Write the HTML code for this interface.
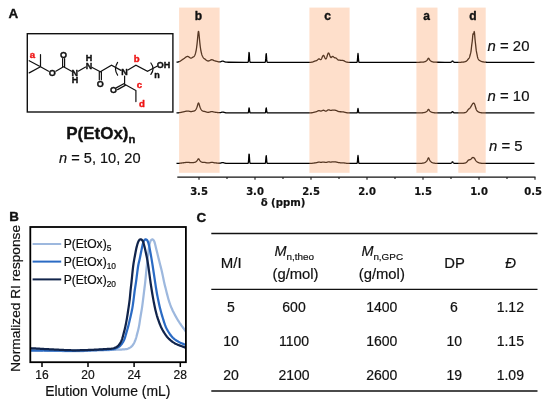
<!DOCTYPE html>
<html lang="en">
<head>
<meta charset="utf-8">
<title>P(EtOx)n characterization</title>
<style>
html,body{margin:0;padding:0;background:#fff;}
body{width:550px;height:406px;overflow:hidden;}
svg{display:block;}
text{font-family:"Liberation Sans",Arial,sans-serif;fill:#111;stroke:#111;stroke-width:0.2px;stroke-linejoin:round;}
.b{font-weight:bold;}
.i{font-style:italic;}
.dj,.dj text{font-family:"DejaVu Sans","Liberation Sans",sans-serif;font-weight:bold;}
.red text{fill:#ee1515;font-weight:bold;stroke:#ee1515;stroke-width:0.4px;}
.atom text{stroke-width:0.4px;}
.b,.b text{stroke-width:0.35px;}
.atom{font-weight:bold;font-size:9px;}
.bond{stroke:#111;stroke-width:1.2;fill:none;stroke-linecap:round;}
.tr{stroke:#000;stroke-width:1.3;fill:none;stroke-linejoin:round;}
</style>
</head>
<body>
<svg width="550" height="406" viewBox="0 0 550 406">
<rect width="550" height="406" fill="#fff"/>

<!-- ===== Panel A ===== -->
<text class="b" x="8.5" y="17.6" font-size="13.4">A</text>

<!-- spectra -->
<g class="tr">
<path d="M176.5 62.18 L177 62.15 L177.5 62.09 L177.75 62.06 L178 62.01 L178.25 61.96 L178.5 61.89 L178.75 61.82 L179 61.73 L179.25 61.62 L179.5 61.51 L179.75 61.38 L180 61.24 L180.25 61.09 L180.5 60.93 L180.75 60.76 L181 60.59 L181.25 60.41 L181.5 60.23 L181.75 60.05 L182 59.88 L182.25 59.7 L182.5 59.53 L182.75 59.36 L183 59.2 L183.25 59.03 L183.5 58.87 L183.75 58.7 L184 58.52 L184.25 58.35 L184.5 58.17 L184.75 57.98 L185 57.79 L185.25 57.6 L185.5 57.4 L185.75 57.22 L186 57.04 L186.25 56.88 L186.5 56.74 L186.75 56.62 L187 56.53 L187.25 56.47 L187.75 56.45 L188 56.5 L188.25 56.59 L188.5 56.7 L188.75 56.85 L189 57.02 L189.25 57.2 L189.5 57.4 L189.75 57.59 L190 57.76 L190.25 57.91 L190.5 58.03 L190.75 58.09 L191 58.11 L191.25 58.07 L191.5 57.98 L191.75 57.85 L192 57.7 L192.25 57.54 L192.5 57.37 L192.75 57.22 L193 57.09 L193.25 56.96 L193.5 56.82 L193.75 56.66 L194 56.45 L194.25 56.18 L194.5 55.81 L194.75 55.35 L195 54.76 L195.25 54.05 L195.5 53.21 L195.75 52.22 L196 51.08 L196.25 49.76 L196.5 48.23 L196.75 46.45 L197 44.4 L197.25 42.03 L197.5 39.38 L197.75 36.58 L198 33.96 L198.25 32.02 L198.5 31.3 L198.75 32.02 L199 33.96 L199.25 36.59 L199.5 39.38 L199.75 42.03 L200 44.4 L200.25 46.46 L200.5 48.24 L200.75 49.77 L201 51.11 L201.25 52.28 L201.5 53.31 L201.75 54.21 L202 55 L202.25 55.69 L202.5 56.28 L202.75 56.79 L203 57.23 L203.25 57.59 L203.5 57.9 L203.75 58.17 L204 58.39 L204.25 58.6 L204.5 58.78 L204.75 58.96 L205 59.14 L205.25 59.33 L205.5 59.52 L205.75 59.72 L206 59.92 L206.25 60.12 L206.5 60.31 L206.75 60.49 L207 60.65 L207.25 60.78 L207.5 60.89 L207.75 60.96 L208 61 L208.5 60.98 L208.75 60.92 L209 60.84 L209.25 60.73 L209.5 60.61 L209.75 60.48 L210 60.35 L210.25 60.21 L210.5 60.08 L210.75 59.97 L211 59.87 L211.25 59.8 L211.5 59.76 L212 59.75 L212.25 59.79 L212.5 59.86 L212.75 59.95 L213 60.05 L213.25 60.17 L213.5 60.29 L213.75 60.42 L214 60.54 L214.25 60.66 L214.5 60.76 L214.75 60.85 L215 60.93 L215.25 61 L215.5 61.07 L215.75 61.12 L216 61.17 L216.25 61.22 L216.5 61.28 L216.75 61.33 L217 61.4 L217.25 61.46 L217.5 61.53 L217.75 61.61 L218 61.68 L218.25 61.75 L218.5 61.81 L218.75 61.86 L219 61.91 L219.5 61.94 L220 61.91 L220.25 61.86 L220.5 61.8 L220.75 61.72 L221 61.62 L221.25 61.52 L221.5 61.41 L221.75 61.32 L222 61.23 L222.25 61.17 L222.5 61.13 L223 61.15 L223.25 61.2 L223.5 61.28 L223.75 61.37 L224 61.48 L224.25 61.6 L224.5 61.71 L224.75 61.81 L225 61.91 L225.25 61.99 L225.5 62.05 L225.75 62.11 L226 62.15 L226.25 62.18 L226.75 62.22 L228.25 62.25 L245 62.28 L247.75 62.28 L248 62.23 L248.25 61.83 L248.5 60.12 L248.75 56.22 L249 52.42 L249.25 52.94 L249.5 57.13 L249.75 60.63 L250 61.98 L250.25 62.25 L250.5 62.28 L265 62.27 L265.25 62.11 L265.5 61.24 L265.75 58.63 L266 54.89 L266.25 53.59 L266.5 56.33 L266.75 59.92 L267 61.74 L267.25 62.22 L267.5 62.28 L311.25 62.24 L311.5 62.22 L311.75 62.18 L312 62.14 L312.25 62.09 L312.5 62.03 L312.75 61.95 L313 61.86 L313.25 61.76 L313.5 61.65 L313.75 61.54 L314 61.42 L314.25 61.31 L314.5 61.2 L314.75 61.1 L315 61.02 L315.25 60.95 L315.5 60.89 L315.75 60.84 L316 60.78 L316.25 60.71 L316.5 60.62 L316.75 60.5 L317 60.33 L317.25 60.13 L317.5 59.9 L317.75 59.65 L318 59.4 L318.25 59.17 L318.5 59 L318.75 58.89 L319 58.86 L319.25 58.91 L319.5 59.03 L319.75 59.19 L320 59.37 L320.25 59.53 L320.5 59.62 L320.75 59.61 L321 59.47 L321.25 59.21 L321.5 58.81 L321.75 58.3 L322 57.72 L322.25 57.11 L322.5 56.52 L322.75 56.02 L323 55.64 L323.25 55.43 L323.5 55.41 L323.75 55.58 L324 55.92 L324.25 56.4 L324.5 56.96 L324.75 57.54 L325 58.09 L325.25 58.54 L325.5 58.85 L325.75 58.97 L326 58.88 L326.25 58.58 L326.5 58.08 L326.75 57.4 L327 56.61 L327.25 55.75 L327.5 54.91 L327.75 54.15 L328 53.54 L328.25 53.15 L328.5 53 L328.75 53.1 L329 53.44 L329.25 53.97 L329.5 54.64 L329.75 55.36 L330 56.06 L330.25 56.66 L330.5 57.13 L330.75 57.42 L331 57.54 L331.25 57.49 L331.5 57.32 L331.75 57.08 L332 56.82 L332.25 56.6 L332.5 56.46 L332.75 56.43 L333 56.5 L333.25 56.66 L333.5 56.88 L333.75 57.12 L334 57.35 L334.25 57.54 L334.5 57.68 L334.75 57.76 L335 57.8 L335.5 57.85 L335.75 57.91 L336 58.02 L336.25 58.18 L336.5 58.39 L336.75 58.64 L337 58.91 L337.25 59.19 L337.5 59.44 L337.75 59.66 L338 59.84 L338.25 59.97 L338.5 60.06 L338.75 60.11 L339 60.14 L339.5 60.18 L340 60.22 L340.25 60.25 L340.5 60.29 L340.75 60.33 L341 60.36 L341.5 60.41 L342.75 60.45 L343 60.48 L343.25 60.53 L343.5 60.6 L343.75 60.69 L344 60.8 L344.25 60.93 L344.5 61.07 L344.75 61.22 L345 61.37 L345.25 61.51 L345.5 61.65 L345.75 61.77 L346 61.88 L346.25 61.98 L346.5 62.05 L346.75 62.12 L347 62.17 L347.25 62.2 L347.75 62.25 L348.5 62.29 L356.75 62.29 L357 62.18 L357.25 61.53 L357.5 59.32 L357.75 55.59 L358 53.5 L358.25 55.59 L358.5 59.32 L358.75 61.53 L359 62.18 L359.25 62.29 L419.5 62.26 L421.25 62.22 L422 62.19 L422.5 62.16 L423 62.11 L423.25 62.08 L423.5 62.04 L423.75 62 L424 61.95 L424.25 61.88 L424.5 61.81 L424.75 61.73 L425 61.64 L425.25 61.54 L425.5 61.42 L425.75 61.29 L426 61.14 L426.25 60.97 L426.5 60.78 L426.75 60.56 L427 60.29 L427.25 59.98 L427.5 59.61 L427.75 59.17 L428 58.72 L428.25 58.35 L428.5 58.2 L428.75 58.35 L429 58.72 L429.25 59.17 L429.5 59.61 L429.75 59.98 L430 60.29 L430.25 60.56 L430.5 60.78 L430.75 60.97 L431 61.14 L431.25 61.29 L431.5 61.42 L431.75 61.54 L432 61.64 L432.25 61.73 L432.5 61.81 L432.75 61.88 L433 61.95 L433.25 62 L433.5 62.04 L433.75 62.08 L434 62.11 L434.5 62.16 L435 62.19 L435.75 62.22 L437.5 62.26 L445 62.29 L450.75 62.25 L451 62.18 L451.25 62.05 L451.5 61.85 L451.75 61.59 L452 61.3 L452.25 61.08 L452.5 60.99 L452.75 61.08 L453 61.3 L453.25 61.59 L453.5 61.85 L453.75 62.05 L454 62.18 L454.25 62.25 L454.5 62.28 L461 62.24 L461.75 62.21 L462.25 62.17 L462.75 62.13 L463 62.1 L463.25 62.07 L463.5 62.03 L463.75 61.99 L464 61.95 L464.25 61.9 L464.5 61.85 L464.75 61.78 L465 61.72 L465.25 61.64 L465.5 61.55 L465.75 61.45 L466 61.33 L466.25 61.19 L466.5 61.02 L466.75 60.81 L467 60.57 L467.25 60.29 L467.5 59.99 L467.75 59.67 L468 59.35 L468.25 59.04 L468.5 58.76 L468.75 58.48 L469 58.19 L469.25 57.8 L469.5 57.24 L469.75 56.44 L470 55.49 L470.25 54.53 L470.5 53.67 L470.75 52.72 L471 51.36 L471.25 49.35 L471.5 47 L471.75 44.89 L472 43.17 L472.25 41.24 L472.5 38.56 L472.75 35.67 L473 33.9 L473.25 33.72 L473.5 34.11 L473.75 33.67 L474 32.3 L474.25 31.5 L474.5 32.8 L474.75 35.9 L475 39.14 L475.25 41.55 L475.5 43.61 L475.75 45.94 L476 48.36 L476.25 50.38 L476.5 51.86 L476.75 53.1 L477 54.37 L477.25 55.69 L477.5 56.9 L477.75 57.86 L478 58.55 L478.25 59.05 L478.5 59.43 L478.75 59.73 L479 59.98 L479.25 60.2 L479.5 60.39 L479.75 60.56 L480 60.71 L480.25 60.85 L480.5 60.99 L480.75 61.11 L481 61.22 L481.25 61.33 L481.5 61.43 L481.75 61.52 L482 61.6 L482.25 61.68 L482.5 61.75 L482.75 61.81 L483 61.87 L483.25 61.92 L483.5 61.97 L483.75 62.01 L484 62.05 L484.25 62.08 L484.75 62.14 L485.25 62.18 L485.75 62.21 L486.5 62.25 L487.75 62.28 L534.5 62.3"/>
<path d="M176.5 112.86 L177.75 112.82 L178.25 112.79 L178.75 112.75 L179 112.72 L179.25 112.69 L179.5 112.65 L179.75 112.61 L180 112.57 L180.25 112.52 L180.5 112.47 L180.75 112.41 L181 112.36 L181.25 112.3 L181.5 112.25 L181.75 112.19 L182 112.14 L182.25 112.08 L182.5 112.03 L182.75 111.97 L183 111.92 L183.25 111.87 L183.5 111.82 L183.75 111.76 L184 111.71 L184.25 111.65 L184.5 111.6 L184.75 111.54 L185 111.48 L185.25 111.42 L185.5 111.36 L185.75 111.3 L186 111.24 L186.25 111.19 L186.5 111.15 L186.75 111.11 L187.25 111.06 L188.25 111.1 L188.5 111.13 L188.75 111.18 L189 111.23 L189.25 111.29 L189.5 111.35 L189.75 111.41 L190 111.47 L190.25 111.51 L190.5 111.55 L191.5 111.53 L191.75 111.49 L192 111.44 L192.25 111.39 L192.5 111.33 L192.75 111.28 L193 111.24 L193.25 111.2 L193.5 111.15 L193.75 111.1 L194 111.03 L194.25 110.93 L194.5 110.82 L194.75 110.66 L195 110.47 L195.25 110.24 L195.5 109.97 L195.75 109.65 L196 109.28 L196.25 108.85 L196.5 108.36 L196.75 107.79 L197 107.12 L197.25 106.36 L197.5 105.51 L197.75 104.6 L198 103.76 L198.25 103.13 L198.5 102.9 L198.75 103.13 L199 103.76 L199.25 104.6 L199.5 105.51 L199.75 106.36 L200 107.12 L200.25 107.78 L200.5 108.35 L200.75 108.85 L201 109.27 L201.25 109.64 L201.5 109.96 L201.75 110.24 L202 110.48 L202.25 110.68 L202.5 110.85 L202.75 110.99 L203 111.1 L203.25 111.19 L203.5 111.26 L203.75 111.32 L204 111.37 L204.25 111.41 L204.5 111.46 L204.75 111.5 L205 111.56 L205.25 111.62 L205.5 111.69 L205.75 111.77 L206 111.85 L206.25 111.94 L206.5 112.02 L206.75 112.1 L207 112.17 L207.25 112.23 L207.5 112.28 L207.75 112.31 L208.5 112.3 L208.75 112.26 L209 112.22 L209.25 112.16 L209.5 112.09 L209.75 112.02 L210 111.95 L210.25 111.87 L210.5 111.8 L210.75 111.74 L211 111.69 L211.25 111.65 L211.75 111.61 L212.25 111.64 L212.5 111.67 L212.75 111.71 L213 111.77 L213.25 111.83 L213.5 111.89 L213.75 111.96 L214 112.02 L214.25 112.08 L214.5 112.13 L214.75 112.18 L215 112.22 L215.25 112.25 L215.5 112.29 L216 112.34 L216.5 112.39 L216.75 112.42 L217 112.45 L217.25 112.49 L217.5 112.52 L217.75 112.56 L218 112.6 L218.25 112.63 L218.5 112.66 L219 112.7 L220 112.67 L220.25 112.63 L220.5 112.58 L220.75 112.52 L221 112.45 L221.25 112.37 L221.5 112.29 L221.75 112.22 L222 112.16 L222.25 112.11 L222.75 112.08 L223 112.09 L223.25 112.13 L223.5 112.19 L223.75 112.25 L224 112.33 L224.25 112.41 L224.5 112.49 L224.75 112.57 L225 112.64 L225.25 112.7 L225.5 112.74 L225.75 112.78 L226.25 112.84 L227 112.87 L248 112.87 L248.25 112.67 L248.5 111.82 L248.75 109.89 L249 108.01 L249.25 108.27 L249.5 110.34 L249.75 112.08 L250 112.74 L250.25 112.88 L265 112.89 L265.25 112.79 L265.5 112.29 L265.75 110.78 L266 108.61 L266.25 107.85 L266.5 109.44 L266.75 111.52 L267 112.58 L267.25 112.85 L267.5 112.89 L310.75 112.86 L311.25 112.82 L311.75 112.77 L312 112.74 L312.25 112.7 L312.5 112.66 L312.75 112.61 L313 112.55 L313.25 112.49 L313.5 112.43 L313.75 112.36 L314 112.3 L314.25 112.23 L314.5 112.17 L314.75 112.11 L315 112.05 L315.25 111.99 L315.5 111.92 L315.75 111.86 L316 111.79 L316.25 111.71 L316.5 111.61 L316.75 111.51 L317 111.4 L317.25 111.28 L317.5 111.15 L317.75 111.03 L318 110.91 L318.25 110.81 L318.5 110.74 L318.75 110.7 L319.25 110.7 L319.5 110.74 L319.75 110.8 L320 110.87 L320.25 110.94 L320.5 110.99 L320.75 111.03 L321 111.03 L321.25 110.99 L321.5 110.93 L321.75 110.83 L322 110.72 L322.25 110.6 L322.5 110.48 L322.75 110.37 L323 110.3 L323.25 110.26 L323.5 110.26 L323.75 110.3 L324 110.39 L324.25 110.5 L324.5 110.63 L324.75 110.77 L325 110.9 L325.25 111.01 L325.5 111.09 L325.75 111.12 L326 111.11 L326.25 111.04 L326.5 110.94 L326.75 110.8 L327 110.63 L327.25 110.44 L327.5 110.27 L327.75 110.1 L328 109.97 L328.25 109.88 L328.5 109.83 L328.75 109.83 L329 109.87 L329.25 109.95 L329.5 110.05 L329.75 110.16 L330 110.26 L330.25 110.35 L330.5 110.41 L330.75 110.45 L331 110.44 L331.25 110.41 L331.5 110.36 L331.75 110.29 L332 110.21 L332.25 110.14 L332.5 110.09 L332.75 110.05 L334 110.09 L334.25 110.12 L334.5 110.15 L335 110.21 L335.25 110.25 L335.5 110.29 L335.75 110.34 L336 110.41 L336.25 110.5 L336.5 110.6 L336.75 110.71 L337 110.84 L337.25 110.96 L337.5 111.09 L337.75 111.21 L338 111.32 L338.25 111.41 L338.5 111.5 L338.75 111.56 L339 111.62 L339.25 111.66 L339.5 111.69 L340 111.74 L340.75 111.77 L341.75 111.81 L342.5 111.84 L343 111.89 L343.25 111.92 L343.5 111.96 L343.75 112.01 L344 112.07 L344.25 112.13 L344.5 112.19 L344.75 112.26 L345 112.33 L345.25 112.4 L345.5 112.47 L345.75 112.54 L346 112.59 L346.25 112.65 L346.5 112.7 L346.75 112.74 L347 112.77 L347.5 112.82 L348 112.86 L349 112.89 L356.75 112.89 L357 112.84 L357.25 112.51 L357.5 111.41 L357.75 109.54 L358 108.5 L358.25 109.54 L358.5 111.41 L358.75 112.51 L359 112.84 L359.25 112.89 L419.5 112.86 L421.5 112.83 L422.25 112.8 L422.75 112.76 L423.25 112.71 L423.5 112.68 L423.75 112.64 L424 112.6 L424.25 112.55 L424.5 112.49 L424.75 112.42 L425 112.34 L425.25 112.25 L425.5 112.15 L425.75 112.04 L426 111.91 L426.25 111.77 L426.5 111.6 L426.75 111.41 L427 111.19 L427.25 110.92 L427.5 110.6 L427.75 110.23 L428 109.84 L428.25 109.53 L428.5 109.4 L428.75 109.53 L429 109.84 L429.25 110.23 L429.5 110.6 L429.75 110.92 L430 111.19 L430.25 111.41 L430.5 111.6 L430.75 111.77 L431 111.91 L431.25 112.04 L431.5 112.15 L431.75 112.25 L432 112.34 L432.25 112.42 L432.5 112.49 L432.75 112.55 L433 112.6 L433.25 112.64 L433.5 112.68 L433.75 112.71 L434.25 112.76 L434.75 112.8 L435.5 112.83 L437.25 112.86 L446.75 112.89 L450.75 112.85 L451 112.79 L451.25 112.67 L451.5 112.49 L451.75 112.24 L452 111.98 L452.25 111.77 L452.5 111.69 L452.75 111.77 L453 111.98 L453.25 112.24 L453.5 112.49 L453.75 112.67 L454 112.79 L454.25 112.85 L454.75 112.89 L463 112.86 L463.75 112.81 L464.25 112.76 L464.5 112.73 L464.75 112.69 L465 112.63 L465.25 112.56 L465.5 112.47 L465.75 112.35 L466 112.21 L466.25 112.02 L466.5 111.8 L466.75 111.54 L467 111.24 L467.25 110.91 L467.5 110.56 L467.75 110.21 L468 109.88 L468.25 109.58 L468.5 109.31 L468.75 109.08 L469 108.89 L469.25 108.71 L469.5 108.53 L469.75 108.31 L470 108.04 L470.25 107.72 L470.5 107.34 L470.75 106.93 L471 106.51 L471.25 106.08 L471.5 105.65 L471.75 105.22 L472 104.79 L472.25 104.37 L472.5 103.97 L472.75 103.62 L473 103.35 L473.25 103.18 L473.5 103.1 L473.75 103.12 L474 103.26 L474.25 103.55 L474.5 103.99 L474.75 104.61 L475 105.39 L475.25 106.27 L475.5 107.18 L475.75 108.06 L476 108.85 L476.25 109.51 L476.5 110.04 L476.75 110.46 L477 110.79 L477.25 111.06 L477.5 111.28 L477.75 111.48 L478 111.65 L478.25 111.81 L478.5 111.95 L478.75 112.08 L479 112.19 L479.25 112.29 L479.5 112.38 L479.75 112.46 L480 112.53 L480.25 112.59 L480.5 112.65 L480.75 112.69 L481 112.73 L481.25 112.76 L481.75 112.81 L482.25 112.84 L483.25 112.88 L534.5 112.9"/>
<path d="M176.5 163.38 L178 163.35 L178.75 163.31 L179.25 163.28 L179.75 163.23 L180.25 163.18 L180.5 163.15 L180.75 163.12 L181 163.09 L181.25 163.06 L181.5 163.02 L181.75 162.99 L182 162.96 L182.25 162.92 L182.5 162.89 L182.75 162.86 L183 162.83 L183.25 162.8 L183.5 162.77 L183.75 162.74 L184 162.71 L184.25 162.68 L184.5 162.64 L184.75 162.61 L185 162.57 L185.25 162.54 L185.5 162.5 L185.75 162.47 L186 162.44 L186.5 162.38 L187 162.34 L188.5 162.38 L188.75 162.41 L189 162.44 L189.25 162.48 L189.5 162.51 L189.75 162.55 L190 162.58 L190.5 162.64 L192 162.6 L192.5 162.56 L193 162.53 L193.75 162.49 L194 162.47 L194.25 162.44 L194.5 162.4 L194.75 162.34 L195 162.26 L195.25 162.16 L195.5 162.04 L195.75 161.9 L196 161.73 L196.25 161.54 L196.5 161.31 L196.75 161.05 L197 160.74 L197.25 160.39 L197.5 160 L197.75 159.58 L198 159.19 L198.25 158.91 L198.5 158.8 L198.75 158.91 L199 159.19 L199.25 159.58 L199.5 160 L199.75 160.39 L200 160.74 L200.25 161.04 L200.5 161.3 L200.75 161.52 L201 161.71 L201.25 161.87 L201.5 162.01 L201.75 162.13 L202 162.22 L202.25 162.29 L202.5 162.35 L202.75 162.39 L203.25 162.43 L205 162.47 L205.25 162.5 L205.5 162.54 L205.75 162.59 L206 162.64 L206.25 162.7 L206.5 162.76 L206.75 162.82 L207 162.87 L207.25 162.92 L207.5 162.95 L208.5 162.95 L208.75 162.92 L209 162.88 L209.25 162.83 L209.5 162.77 L209.75 162.71 L210 162.64 L210.25 162.58 L210.5 162.52 L210.75 162.47 L211 162.42 L211.25 162.39 L211.75 162.36 L212.5 162.4 L212.75 162.44 L213 162.48 L213.25 162.53 L213.5 162.58 L213.75 162.64 L214 162.69 L214.25 162.74 L214.5 162.78 L214.75 162.82 L215 162.85 L215.5 162.91 L216 162.95 L216.5 162.99 L217 163.04 L217.5 163.1 L217.75 163.13 L218.25 163.19 L218.75 163.23 L220 163.2 L220.25 163.15 L220.5 163.1 L220.75 163.04 L221 162.96 L221.25 162.88 L221.5 162.81 L221.75 162.73 L222 162.67 L222.25 162.62 L222.75 162.59 L223 162.61 L223.25 162.64 L223.5 162.7 L223.75 162.77 L224 162.84 L224.25 162.93 L224.5 163.01 L224.75 163.08 L225 163.15 L225.25 163.21 L225.5 163.26 L225.75 163.29 L226.25 163.35 L227 163.38 L247.75 163.39 L248 163.35 L248.25 162.97 L248.5 161.36 L248.75 157.69 L249 154.11 L249.25 154.6 L249.5 158.55 L249.75 161.84 L250 163.11 L250.25 163.37 L250.75 163.4 L265 163.38 L265.25 163.24 L265.5 162.45 L265.75 160.11 L266 156.76 L266.25 155.58 L266.5 158.05 L266.75 161.27 L267 162.9 L267.25 163.33 L267.5 163.39 L311 163.36 L311.75 163.32 L312.25 163.28 L312.75 163.22 L313 163.19 L313.25 163.16 L313.5 163.12 L313.75 163.09 L314 163.05 L314.25 163.01 L314.5 162.98 L314.75 162.94 L315 162.9 L315.25 162.87 L315.5 162.83 L315.75 162.79 L316 162.74 L316.25 162.69 L316.5 162.64 L316.75 162.58 L317 162.51 L317.25 162.45 L317.5 162.38 L317.75 162.31 L318 162.25 L318.25 162.2 L318.5 162.16 L319 162.13 L319.5 162.16 L319.75 162.19 L320 162.23 L320.25 162.27 L320.5 162.3 L321.5 162.3 L321.75 162.26 L322 162.22 L322.25 162.17 L322.5 162.12 L322.75 162.08 L323.25 162.04 L323.75 162.06 L324 162.1 L324.25 162.15 L324.5 162.21 L324.75 162.27 L325 162.33 L325.25 162.38 L325.5 162.42 L326.25 162.41 L326.5 162.37 L326.75 162.31 L327 162.24 L327.25 162.16 L327.5 162.08 L327.75 162.01 L328 161.95 L328.25 161.91 L329.25 161.92 L329.5 161.95 L329.75 161.99 L330 162.03 L330.5 162.08 L331.25 162.05 L331.5 162.02 L331.75 161.98 L332 161.94 L332.25 161.9 L332.5 161.87 L333 161.83 L334.75 161.87 L335.25 161.9 L335.5 161.93 L335.75 161.96 L336 162 L336.25 162.05 L336.5 162.1 L336.75 162.16 L337 162.23 L337.25 162.3 L337.5 162.36 L337.75 162.43 L338 162.49 L338.25 162.55 L338.5 162.59 L338.75 162.63 L339 162.67 L339.5 162.71 L340.25 162.75 L341.75 162.78 L342.75 162.82 L343.25 162.85 L343.75 162.9 L344 162.93 L344.25 162.97 L344.5 163 L344.75 163.04 L345 163.08 L345.25 163.12 L345.5 163.15 L345.75 163.19 L346 163.22 L346.5 163.28 L347 163.32 L347.5 163.35 L348.5 163.38 L356.75 163.39 L357 163.3 L357.25 162.71 L357.5 160.72 L357.75 157.37 L358 155.5 L358.25 157.37 L358.5 160.72 L358.75 162.71 L359 163.3 L359.25 163.39 L417.75 163.36 L420.25 163.33 L421.25 163.3 L422 163.26 L422.5 163.21 L422.75 163.18 L423 163.14 L423.25 163.1 L423.5 163.05 L423.75 162.99 L424 162.92 L424.25 162.83 L424.5 162.74 L424.75 162.63 L425 162.5 L425.25 162.36 L425.5 162.2 L425.75 162.02 L426 161.82 L426.25 161.59 L426.5 161.33 L426.75 161.02 L427 160.66 L427.25 160.23 L427.5 159.72 L427.75 159.13 L428 158.51 L428.25 158 L428.5 157.8 L428.75 158 L429 158.51 L429.25 159.13 L429.5 159.72 L429.75 160.23 L430 160.66 L430.25 161.02 L430.5 161.33 L430.75 161.59 L431 161.82 L431.25 162.02 L431.5 162.2 L431.75 162.36 L432 162.5 L432.25 162.63 L432.5 162.74 L432.75 162.83 L433 162.92 L433.25 162.99 L433.5 163.05 L433.75 163.1 L434 163.14 L434.25 163.18 L434.5 163.21 L435 163.26 L435.5 163.29 L436.5 163.32 L438.5 163.35 L445.25 163.38 L450.5 163.37 L450.75 163.33 L451 163.25 L451.25 163.1 L451.5 162.85 L451.75 162.52 L452 162.17 L452.25 161.9 L452.5 161.79 L452.75 161.9 L453 162.17 L453.25 162.52 L453.5 162.85 L453.75 163.1 L454 163.25 L454.25 163.33 L454.5 163.37 L463 163.33 L463.5 163.3 L464 163.25 L464.25 163.22 L464.5 163.18 L464.75 163.13 L465 163.08 L465.25 163 L465.5 162.92 L465.75 162.8 L466 162.66 L466.25 162.49 L466.5 162.28 L466.75 162.04 L467 161.77 L467.25 161.47 L467.5 161.16 L467.75 160.86 L468 160.57 L468.25 160.32 L468.5 160.11 L468.75 159.96 L469 159.86 L469.25 159.8 L469.5 159.77 L469.75 159.75 L470 159.71 L470.25 159.64 L470.5 159.51 L470.75 159.33 L471 159.1 L471.25 158.82 L471.5 158.52 L471.75 158.22 L472 157.96 L472.25 157.75 L472.5 157.6 L472.75 157.52 L473.25 157.52 L473.5 157.59 L473.75 157.7 L474 157.87 L474.25 158.1 L474.5 158.41 L474.75 158.77 L475 159.19 L475.25 159.62 L475.5 160.06 L475.75 160.46 L476 160.82 L476.25 161.13 L476.5 161.39 L476.75 161.62 L477 161.81 L477.25 161.98 L477.5 162.13 L477.75 162.27 L478 162.39 L478.25 162.51 L478.5 162.61 L478.75 162.71 L479 162.8 L479.25 162.87 L479.5 162.95 L479.75 163.01 L480 163.07 L480.25 163.12 L480.5 163.16 L480.75 163.2 L481 163.23 L481.5 163.28 L482 163.32 L482.75 163.36 L484.25 163.39 L534.5 163.4"/>
</g>
<!-- shaded bands (translucent, over the traces) -->
<g fill="#fca066" fill-opacity="0.34">
<rect x="179.1" y="7.6" width="40.5" height="165.2"/>
<rect x="309.4" y="7.6" width="40.2" height="165.2"/>
<rect x="416.4" y="7.6" width="21.1" height="165.2"/>
<rect x="458.3" y="7.6" width="27.4" height="165.2"/>
</g>
<g class="b" font-size="12" text-anchor="middle">
<text x="198.3" y="19.6">b</text>
<text x="327.5" y="19.6">c</text>
<text x="426.5" y="19.6">a</text>
<text x="472.8" y="19.6">d</text>
</g>


<g font-size="14.9">
<text x="487.6" y="50.9"><tspan class="i">n</tspan> = 20</text>
<text x="487.6" y="101.3"><tspan class="i">n</tspan> = 10</text>
<text x="489" y="151.3"><tspan class="i">n</tspan> = 5</text>
</g>

<!-- ppm axis -->
<path d="M177.3 177.2H535.5" stroke="#111" stroke-width="1.3" fill="none"/>
<path d="M199 177.2V179.8M227 177.2V179.0M255 177.2V179.8M283 177.2V179.0M311 177.2V179.8M339 177.2V179.0M367 177.2V179.8M395 177.2V179.0M423 177.2V179.8M451 177.2V179.0M479 177.2V179.8M507 177.2V179.0M535 177.2V179.8" stroke="#111" stroke-width="1.1" fill="none"/>
<g class="dj" font-size="10"><text x="199" y="194.8" text-anchor="middle">3.5</text><text x="255" y="194.8" text-anchor="middle">3.0</text><text x="311" y="194.8" text-anchor="middle">2.5</text><text x="367" y="194.8" text-anchor="middle">2.0</text><text x="423" y="194.8" text-anchor="middle">1.5</text><text x="479" y="194.8" text-anchor="middle">1.0</text><text x="542" y="194.8" text-anchor="end">0.5</text></g>
<text class="dj" x="283" y="205.8" font-size="10.1" text-anchor="middle">δ (ppm)</text>

<!-- structure box -->
<rect x="27.3" y="33.7" width="145.6" height="78.3" fill="none" stroke="#111" stroke-width="1.4"/>
<g class="bond">
<path d="M40.5 66.8V54.5M40.5 66.8L29.2 60.7M40.5 66.8L29.2 72.9M40.5 66.8L48.6 71.2"/>
<path d="M55.8 71.2L63.5 66.8M62.6 66.8V58.6M64.6 66.8V58.6M63.5 66.8L71.6 71.2"/>
<path d="M78.2 71.2L85.6 67.1M92.2 67.5L100.3 71.7M99.3 71.7V79.8M101.4 71.7V79.8"/>
<path d="M100.3 71.7L111.5 65.2L121 70.4M127.9 70L135.9 65.2L147.5 71.4L157 66.2"/>
<path d="M124.6 76V84.3M124.6 84.3L135.9 90.6V101.6M124.2 83.5L116.6 87.6M125.2 85.4L117.6 89.6"/>
<path d="M117.6 62.4Q113.4 68.8 117.6 75.2M150.9 63Q155.1 68.7 150.9 74.4"/>
</g>
<g class="atom" text-anchor="middle">
<text x="52.2" y="76.1">O</text>
<text x="63.5" y="57.8">O</text>
<text x="74.8" y="75.7">N</text>
<text x="75.1" y="83">H</text>
<text x="88.9" y="68.8">N</text>
<text x="88.9" y="61.2">H</text>
<text x="100.3" y="86.7">O</text>
<text x="124.5" y="75.3">N</text>
<text x="113.4" y="93">O</text>
<text x="163.6" y="68.1">OH</text>
<text x="157.1" y="78.2">n</text>
</g>
<g class="red" font-size="9.6" text-anchor="middle">
<text x="32.5" y="57.5">a</text>
<text x="136.8" y="61.8">b</text>
<text x="139.3" y="87.8">c</text>
<text x="141.9" y="106.9">d</text>
</g>

<text class="b" x="66.2" y="139.3" font-size="17">P(EtOx)<tspan font-size="11.3" dy="3.8">n</tspan></text>
<text x="99.8" y="162.8" font-size="14.6" text-anchor="middle"><tspan class="i">n</tspan> = 5, 10, 20</text>

<!-- ===== Panel B ===== -->
<text class="b" x="9.2" y="221.4" font-size="13.4">B</text>
<text transform="translate(19.8 298.4) rotate(-90)" font-size="13.7" text-anchor="middle">Normalized RI response</text>
<clipPath id="cp"><rect x="30.3" y="227" width="155.7" height="135.2"/></clipPath>
<g clip-path="url(#cp)" fill="none" stroke-width="2.25" stroke-linecap="round" stroke-linejoin="round">
<path d="M30.5 349.8 L31.5 349.84 L32.5 349.89 L33.5 349.93 L34.5 349.98 L35.5 350.02 L36.49 350.06 L37.49 350.11 L38.49 350.15 L39.49 350.19 L40.49 350.24 L41.49 350.28 L42.49 350.32 L43.49 350.36 L44.49 350.4 L45.49 350.44 L46.49 350.47 L47.49 350.51 L48.48 350.55 L49.48 350.58 L50.48 350.62 L51.48 350.65 L52.48 350.69 L53.48 350.72 L54.48 350.76 L55.48 350.79 L56.48 350.83 L57.48 350.86 L58.48 350.9 L59.48 350.93 L60.48 350.96 L61.48 350.99 L62.48 351.02 L63.48 351.05 L64.48 351.08 L65.48 351.1 L66.47 351.12 L67.47 351.14 L68.47 351.16 L69.47 351.17 L70.47 351.18 L71.47 351.19 L72.47 351.19 L73.47 351.19 L74.47 351.19 L75.47 351.18 L76.47 351.17 L77.47 351.15 L78.47 351.14 L79.47 351.12 L80.47 351.09 L81.47 351.07 L82.47 351.04 L83.47 351.01 L84.47 350.98 L85.47 350.95 L86.47 350.91 L87.47 350.88 L88.47 350.84 L89.47 350.8 L90.47 350.76 L91.47 350.73 L92.47 350.69 L93.47 350.65 L94.46 350.61 L95.46 350.57 L96.46 350.53 L97.46 350.49 L98.46 350.46 L99.46 350.42 L100.46 350.38 L101.46 350.35 L102.46 350.31 L103.46 350.27 L104.46 350.24 L105.46 350.2 L106.46 350.16 L107.46 350.12 L108.45 350.08 L109.45 350.04 L110.45 349.99 L111.45 349.95 L112.45 349.91 L113.45 349.87 L114.45 349.83 L115.45 349.78 L116.45 349.74 L117.45 349.7 L118.45 349.66 L119.44 349.62 L120.44 349.57 L121.44 349.51 L122.44 349.46 L123.44 349.39 L124.43 349.31 L125.42 349.21 L126.4 349.05 L127.36 348.82 L128.29 348.52 L129.19 348.12 L130.05 347.64 L130.85 347.08 L131.59 346.44 L132.26 345.73 L132.88 344.96 L133.42 344.14 L133.92 343.28 L134.36 342.39 L134.77 341.48 L135.16 340.56 L135.51 339.63 L135.84 338.68 L136.14 337.73 L136.42 336.77 L136.67 335.81 L136.92 334.84 L137.16 333.87 L137.42 332.9 L137.67 331.93 L137.93 330.97 L138.18 330 L138.42 329.03 L138.64 328.06 L138.85 327.08 L139.04 326.1 L139.21 325.11 L139.38 324.13 L139.53 323.14 L139.69 322.15 L139.83 321.16 L139.98 320.17 L140.13 319.18 L140.28 318.2 L140.43 317.21 L140.59 316.22 L140.75 315.23 L140.92 314.25 L141.09 313.26 L141.26 312.28 L141.43 311.29 L141.6 310.31 L141.76 309.32 L141.91 308.33 L142.06 307.34 L142.2 306.35 L142.34 305.36 L142.47 304.37 L142.6 303.38 L142.73 302.39 L142.86 301.39 L142.98 300.4 L143.11 299.41 L143.23 298.42 L143.36 297.43 L143.48 296.43 L143.6 295.44 L143.72 294.45 L143.84 293.46 L143.96 292.46 L144.08 291.47 L144.2 290.48 L144.33 289.49 L144.45 288.49 L144.57 287.5 L144.69 286.51 L144.81 285.51 L144.93 284.52 L145.04 283.53 L145.16 282.53 L145.26 281.54 L145.37 280.55 L145.47 279.55 L145.57 278.56 L145.66 277.56 L145.76 276.57 L145.86 275.57 L145.95 274.57 L146.05 273.58 L146.14 272.58 L146.24 271.59 L146.34 270.59 L146.44 269.6 L146.53 268.6 L146.63 267.61 L146.74 266.61 L146.84 265.62 L146.95 264.62 L147.06 263.63 L147.17 262.64 L147.29 261.64 L147.4 260.65 L147.52 259.66 L147.64 258.66 L147.75 257.67 L147.87 256.68 L147.98 255.68 L148.09 254.69 L148.21 253.7 L148.33 252.7 L148.44 251.71 L148.57 250.72 L148.69 249.73 L148.82 248.74 L148.97 247.75 L149.12 246.76 L149.28 245.77 L149.47 244.79 L149.67 243.81 L149.9 242.85 L150.18 241.91 L150.53 241.03 L150.96 240.26 L151.48 239.7 L152.07 239.41 L152.69 239.46 L153.27 239.83 L153.77 240.46 L154.18 241.27 L154.52 242.16 L154.8 243.11 L155.06 244.07 L155.3 245.04 L155.54 246.01 L155.77 246.98 L156.01 247.95 L156.25 248.93 L156.49 249.9 L156.73 250.87 L156.97 251.84 L157.21 252.81 L157.45 253.78 L157.68 254.75 L157.92 255.72 L158.16 256.69 L158.4 257.67 L158.64 258.64 L158.88 259.61 L159.12 260.58 L159.37 261.55 L159.61 262.52 L159.86 263.48 L160.11 264.45 L160.36 265.42 L160.61 266.39 L160.85 267.36 L161.1 268.33 L161.34 269.3 L161.58 270.27 L161.81 271.24 L162.03 272.22 L162.25 273.19 L162.46 274.17 L162.66 275.15 L162.86 276.13 L163.06 277.11 L163.26 278.09 L163.45 279.07 L163.65 280.05 L163.86 281.03 L164.07 282.01 L164.3 282.98 L164.52 283.96 L164.76 284.93 L165 285.9 L165.24 286.87 L165.49 287.84 L165.73 288.81 L165.98 289.77 L166.23 290.74 L166.47 291.71 L166.71 292.68 L166.96 293.65 L167.2 294.62 L167.44 295.59 L167.7 296.56 L167.96 297.53 L168.23 298.49 L168.51 299.45 L168.8 300.41 L169.1 301.36 L169.41 302.31 L169.73 303.26 L170.06 304.2 L170.4 305.14 L170.76 306.07 L171.12 307 L171.51 307.93 L171.9 308.84 L172.32 309.75 L172.74 310.66 L173.18 311.56 L173.63 312.45 L174.09 313.34 L174.55 314.22 L175.03 315.1 L175.5 315.98 L175.99 316.86 L176.48 317.73 L176.98 318.59 L177.49 319.45 L178.01 320.31 L178.54 321.16 L179.08 322 L179.62 322.84 L180.18 323.67 L180.75 324.49 L181.32 325.31 L181.9 326.12 L182.49 326.93 L183.08 327.74 L183.68 328.54 L184.27 329.34 L184.87 330.15 L185.47 330.95" stroke="#9db8de"/>
<path d="M30.5 350.6 L31.5 350.59 L32.5 350.58 L33.5 350.58 L34.5 350.57 L35.5 350.56 L36.5 350.55 L37.5 350.54 L38.5 350.53 L39.5 350.53 L40.5 350.52 L41.5 350.51 L42.5 350.51 L43.5 350.5 L44.5 350.5 L45.5 350.5 L46.5 350.5 L47.5 350.5 L48.5 350.5 L49.5 350.5 L50.5 350.51 L51.5 350.52 L52.5 350.53 L53.5 350.54 L54.5 350.56 L55.5 350.58 L56.5 350.59 L57.5 350.61 L58.5 350.63 L59.5 350.66 L60.5 350.68 L61.5 350.7 L62.5 350.72 L63.5 350.73 L64.5 350.75 L65.5 350.77 L66.5 350.78 L67.5 350.79 L68.5 350.8 L69.5 350.81 L70.5 350.81 L71.5 350.81 L72.5 350.8 L73.5 350.8 L74.5 350.79 L75.5 350.77 L76.5 350.75 L77.5 350.73 L78.5 350.71 L79.5 350.68 L80.49 350.65 L81.49 350.62 L82.49 350.59 L83.49 350.56 L84.49 350.52 L85.49 350.48 L86.49 350.45 L87.49 350.41 L88.49 350.37 L89.49 350.33 L90.49 350.29 L91.49 350.25 L92.49 350.21 L93.49 350.17 L94.48 350.12 L95.48 350.08 L96.48 350.04 L97.48 350 L98.48 349.96 L99.48 349.92 L100.48 349.88 L101.48 349.84 L102.48 349.81 L103.48 349.77 L104.48 349.73 L105.48 349.68 L106.47 349.63 L107.47 349.59 L108.47 349.53 L109.47 349.48 L110.47 349.42 L111.46 349.33 L112.45 349.21 L113.43 349.05 L114.4 348.83 L115.35 348.56 L116.29 348.23 L117.2 347.84 L118.07 347.38 L118.89 346.85 L119.67 346.25 L120.39 345.57 L121.05 344.84 L121.67 344.07 L122.24 343.25 L122.78 342.42 L123.29 341.56 L123.76 340.68 L124.18 339.78 L124.56 338.86 L124.9 337.92 L125.2 336.97 L125.48 336.02 L125.74 335.05 L126.01 334.09 L126.28 333.13 L126.56 332.17 L126.85 331.21 L127.13 330.25 L127.41 329.29 L127.68 328.33 L127.95 327.36 L128.21 326.4 L128.46 325.43 L128.7 324.46 L128.93 323.49 L129.17 322.52 L129.39 321.54 L129.62 320.57 L129.84 319.59 L130.06 318.62 L130.29 317.64 L130.51 316.67 L130.73 315.69 L130.96 314.72 L131.18 313.74 L131.4 312.77 L131.62 311.79 L131.82 310.81 L132.02 309.83 L132.21 308.85 L132.39 307.87 L132.55 306.88 L132.71 305.9 L132.86 304.91 L133 303.92 L133.14 302.93 L133.27 301.94 L133.41 300.94 L133.54 299.95 L133.66 298.96 L133.79 297.97 L133.91 296.98 L134.03 295.98 L134.15 294.99 L134.27 294 L134.39 293 L134.51 292.01 L134.64 291.02 L134.78 290.03 L134.93 289.04 L135.08 288.05 L135.23 287.07 L135.39 286.08 L135.55 285.09 L135.7 284.1 L135.85 283.11 L136 282.12 L136.14 281.13 L136.27 280.14 L136.41 279.15 L136.54 278.16 L136.66 277.17 L136.79 276.18 L136.92 275.19 L137.05 274.19 L137.17 273.2 L137.3 272.21 L137.43 271.22 L137.56 270.23 L137.69 269.24 L137.82 268.24 L137.97 267.26 L138.12 266.27 L138.29 265.28 L138.48 264.3 L138.69 263.32 L138.91 262.35 L139.14 261.38 L139.36 260.4 L139.58 259.43 L139.8 258.45 L140.01 257.47 L140.21 256.49 L140.41 255.51 L140.6 254.53 L140.8 253.55 L140.99 252.57 L141.19 251.59 L141.39 250.61 L141.59 249.63 L141.79 248.65 L142 247.67 L142.21 246.7 L142.43 245.72 L142.65 244.75 L142.89 243.78 L143.15 242.82 L143.46 241.89 L143.82 241.01 L144.27 240.25 L144.81 239.68 L145.43 239.38 L146.08 239.41 L146.69 239.75 L147.23 240.36 L147.68 241.14 L148.05 242.03 L148.36 242.96 L148.63 243.92 L148.87 244.89 L149.1 245.86 L149.31 246.84 L149.52 247.81 L149.72 248.79 L149.91 249.78 L150.1 250.76 L150.28 251.74 L150.46 252.72 L150.64 253.71 L150.82 254.69 L150.99 255.68 L151.16 256.66 L151.33 257.65 L151.5 258.63 L151.67 259.62 L151.83 260.61 L151.99 261.59 L152.15 262.58 L152.31 263.57 L152.47 264.56 L152.62 265.54 L152.77 266.53 L152.92 267.52 L153.07 268.51 L153.22 269.5 L153.37 270.49 L153.52 271.48 L153.67 272.46 L153.82 273.45 L153.96 274.44 L154.11 275.43 L154.26 276.42 L154.41 277.41 L154.56 278.4 L154.71 279.39 L154.86 280.38 L155.01 281.36 L155.16 282.35 L155.31 283.34 L155.46 284.33 L155.61 285.32 L155.76 286.31 L155.91 287.3 L156.07 288.28 L156.22 289.27 L156.38 290.26 L156.55 291.24 L156.72 292.23 L156.89 293.21 L157.07 294.2 L157.25 295.18 L157.44 296.16 L157.63 297.15 L157.83 298.13 L158.03 299.11 L158.23 300.09 L158.43 301.07 L158.64 302.04 L158.85 303.02 L159.06 304 L159.28 304.97 L159.5 305.95 L159.73 306.92 L159.96 307.89 L160.21 308.86 L160.45 309.83 L160.71 310.8 L160.97 311.77 L161.24 312.73 L161.51 313.69 L161.79 314.65 L162.07 315.61 L162.36 316.57 L162.65 317.52 L162.94 318.48 L163.23 319.44 L163.53 320.39 L163.83 321.35 L164.13 322.3 L164.45 323.25 L164.77 324.19 L165.11 325.13 L165.48 326.06 L165.86 326.98 L166.27 327.89 L166.71 328.79 L167.18 329.67 L167.66 330.55 L168.17 331.41 L168.69 332.26 L169.23 333.1 L169.78 333.93 L170.35 334.75 L170.94 335.56 L171.56 336.33 L172.22 337.08 L172.92 337.78 L173.66 338.45 L174.43 339.09 L175.22 339.69 L176.03 340.27 L176.86 340.82 L177.71 341.34 L178.58 341.84 L179.46 342.3 L180.36 342.73 L181.27 343.14 L182.2 343.52 L183.13 343.89 L184.06 344.24 L185 344.6" stroke="#2b6bc4"/>
<path d="M30.5 348.2 L31.5 348.26 L32.5 348.32 L33.49 348.38 L34.49 348.44 L35.49 348.49 L36.49 348.55 L37.49 348.61 L38.49 348.67 L39.48 348.73 L40.48 348.79 L41.48 348.84 L42.48 348.9 L43.48 348.96 L44.48 349.01 L45.47 349.07 L46.47 349.12 L47.47 349.17 L48.47 349.22 L49.47 349.27 L50.47 349.32 L51.47 349.37 L52.47 349.42 L53.46 349.48 L54.46 349.53 L55.46 349.58 L56.46 349.63 L57.46 349.68 L58.46 349.73 L59.46 349.78 L60.46 349.83 L61.45 349.88 L62.45 349.93 L63.45 349.97 L64.45 350.02 L65.45 350.06 L66.45 350.1 L67.45 350.14 L68.45 350.17 L69.45 350.2 L70.45 350.23 L71.45 350.25 L72.45 350.27 L73.45 350.28 L74.45 350.29 L75.45 350.3 L76.45 350.29 L77.45 350.29 L78.45 350.28 L79.45 350.26 L80.45 350.24 L81.45 350.22 L82.45 350.19 L83.44 350.16 L84.44 350.13 L85.44 350.09 L86.44 350.06 L87.44 350.02 L88.44 349.98 L89.44 349.94 L90.44 349.89 L91.44 349.85 L92.44 349.81 L93.44 349.77 L94.44 349.72 L95.43 349.68 L96.43 349.63 L97.43 349.59 L98.43 349.54 L99.43 349.48 L100.43 349.43 L101.43 349.37 L102.42 349.3 L103.42 349.24 L104.42 349.17 L105.42 349.11 L106.42 349.05 L107.41 348.99 L108.41 348.94 L109.41 348.87 L110.4 348.79 L111.39 348.67 L112.37 348.5 L113.34 348.29 L114.29 348.02 L115.22 347.68 L116.11 347.28 L116.96 346.78 L117.74 346.2 L118.44 345.53 L119.09 344.79 L119.66 343.99 L120.19 343.15 L120.67 342.28 L121.11 341.39 L121.52 340.48 L121.89 339.55 L122.22 338.61 L122.52 337.66 L122.8 336.7 L123.06 335.74 L123.31 334.77 L123.56 333.8 L123.81 332.83 L124.07 331.87 L124.32 330.9 L124.56 329.93 L124.8 328.96 L125.03 327.98 L125.26 327.01 L125.47 326.03 L125.68 325.06 L125.88 324.08 L126.07 323.09 L126.25 322.11 L126.43 321.13 L126.61 320.14 L126.78 319.16 L126.95 318.17 L127.11 317.19 L127.27 316.2 L127.43 315.21 L127.59 314.22 L127.74 313.24 L127.88 312.25 L128.03 311.26 L128.17 310.27 L128.32 309.28 L128.46 308.29 L128.61 307.3 L128.75 306.31 L128.9 305.32 L129.04 304.33 L129.18 303.34 L129.32 302.35 L129.45 301.36 L129.58 300.37 L129.7 299.37 L129.81 298.38 L129.91 297.39 L130.01 296.39 L130.1 295.4 L130.19 294.4 L130.28 293.4 L130.38 292.41 L130.47 291.41 L130.57 290.42 L130.67 289.42 L130.78 288.43 L130.89 287.44 L131.01 286.44 L131.13 285.45 L131.24 284.46 L131.35 283.46 L131.46 282.47 L131.57 281.47 L131.67 280.48 L131.77 279.48 L131.87 278.49 L131.96 277.49 L132.06 276.5 L132.16 275.5 L132.25 274.51 L132.35 273.51 L132.45 272.52 L132.55 271.52 L132.66 270.53 L132.77 269.53 L132.88 268.54 L132.99 267.55 L133.11 266.55 L133.24 265.56 L133.38 264.57 L133.52 263.58 L133.68 262.59 L133.84 261.61 L134.01 260.62 L134.19 259.64 L134.36 258.65 L134.54 257.67 L134.73 256.69 L134.91 255.7 L135.09 254.72 L135.27 253.74 L135.46 252.76 L135.65 251.77 L135.84 250.79 L136.04 249.81 L136.25 248.83 L136.46 247.86 L136.69 246.88 L136.93 245.91 L137.19 244.95 L137.47 243.99 L137.77 243.04 L138.12 242.12 L138.52 241.24 L138.99 240.44 L139.54 239.81 L140.17 239.41 L140.84 239.32 L141.5 239.55 L142.09 240.06 L142.59 240.78 L143.01 241.62 L143.36 242.53 L143.66 243.48 L143.92 244.44 L144.17 245.41 L144.41 246.38 L144.65 247.35 L144.87 248.32 L145.1 249.3 L145.32 250.27 L145.54 251.25 L145.75 252.23 L145.97 253.2 L146.18 254.18 L146.38 255.16 L146.58 256.14 L146.78 257.12 L146.97 258.1 L147.15 259.08 L147.33 260.07 L147.51 261.05 L147.68 262.04 L147.84 263.02 L147.99 264.01 L148.15 265 L148.29 265.99 L148.44 266.98 L148.58 267.97 L148.71 268.96 L148.85 269.95 L148.98 270.94 L149.12 271.93 L149.25 272.92 L149.38 273.92 L149.51 274.91 L149.64 275.9 L149.78 276.89 L149.91 277.88 L150.05 278.87 L150.19 279.86 L150.33 280.85 L150.47 281.84 L150.61 282.83 L150.76 283.82 L150.9 284.81 L151.05 285.8 L151.2 286.79 L151.35 287.77 L151.51 288.76 L151.66 289.75 L151.82 290.74 L151.98 291.73 L152.14 292.71 L152.3 293.7 L152.47 294.69 L152.63 295.67 L152.8 296.66 L152.97 297.64 L153.15 298.63 L153.33 299.61 L153.51 300.59 L153.69 301.58 L153.88 302.56 L154.07 303.54 L154.27 304.52 L154.47 305.5 L154.67 306.48 L154.88 307.46 L155.09 308.43 L155.31 309.41 L155.54 310.39 L155.76 311.36 L156 312.33 L156.25 313.3 L156.51 314.26 L156.78 315.23 L157.07 316.18 L157.36 317.14 L157.67 318.09 L157.99 319.04 L158.31 319.98 L158.64 320.93 L158.98 321.87 L159.33 322.81 L159.68 323.74 L160.05 324.67 L160.43 325.59 L160.83 326.51 L161.25 327.42 L161.68 328.32 L162.14 329.2 L162.62 330.08 L163.12 330.95 L163.63 331.81 L164.15 332.66 L164.69 333.5 L165.24 334.33 L165.81 335.16 L166.39 335.96 L167.01 336.75 L167.66 337.5 L168.33 338.23 L169.04 338.93 L169.77 339.61 L170.53 340.27 L171.3 340.9 L172.09 341.51 L172.9 342.09 L173.73 342.64 L174.58 343.16 L175.46 343.64 L176.35 344.08 L177.26 344.5 L178.17 344.89 L179.1 345.26 L180.03 345.62 L180.97 345.97 L181.91 346.31 L182.85 346.65 L183.79 346.99 L184.74 347.32 L185.68 347.65" stroke="#11244b"/>
</g>
<rect x="30.3" y="227" width="155.6" height="135.2" fill="none" stroke="#000" stroke-width="1.8"/>
<path d="M42 363V367M88 363V367M134.1 363V367M180.3 363V367" stroke="#000" stroke-width="1.5" fill="none"/>
<g font-size="12" text-anchor="middle">
<text x="42" y="379.4">16</text>
<text x="88" y="379.4">20</text>
<text x="134.1" y="379.4">24</text>
<text x="180.3" y="379.4">28</text>
</g>
<text x="107.8" y="395.9" font-size="13.9" text-anchor="middle">Elution Volume (mL)</text>
<g fill="none" stroke-width="2">
<path d="M32.6 244H61.2" stroke="#9db8de"/>
<path d="M32.6 261.6H61.2" stroke="#2b6bc4"/>
<path d="M32.6 279.4H61.2" stroke="#11244b"/>
</g>
<g font-size="12.1">
<text x="63.7" y="248">P(EtOx)<tspan font-size="8.4" dy="3.4">5</tspan></text>
<text x="63.7" y="265.7">P(EtOx)<tspan font-size="8.4" dy="3.4">10</tspan></text>
<text x="63.7" y="283.5">P(EtOx)<tspan font-size="8.4" dy="3.4">20</tspan></text>
</g>

<!-- ===== Panel C ===== -->
<text class="b" x="196.4" y="222" font-size="13.4">C</text>
<path d="M211.3 233.5H537.5M211.3 289.3H537.5M211.3 391H537.5" stroke="#111" stroke-width="1.3" fill="none"/>
<g font-size="14" text-anchor="middle">
<text x="231.2" y="268.1" font-size="15">M/I</text>
<text x="294.3" y="256.2" font-size="14.4"><tspan class="i">M</tspan><tspan font-size="9.9" dy="3.7">n,theo</tspan></text>
<text x="295.5" y="279" font-size="14.8">(g/mol)</text>
<text x="382.2" y="256.2" font-size="14.4"><tspan class="i">M</tspan><tspan font-size="9.9" dy="3.7">n,GPC</tspan></text>
<text x="381.8" y="279" font-size="14.8">(g/mol)</text>
<text x="454.5" y="268.1" font-size="14.8">DP</text>
<text class="i" x="510.6" y="268.1" font-size="14.8">Đ</text>

<text x="230.8" y="312.3">5</text>
<text x="294" y="312.3">600</text>
<text x="381.8" y="312.3">1400</text>
<text x="453.8" y="312.3">6</text>
<text x="510.3" y="312.3">1.12</text>

<text x="231" y="346">10</text>
<text x="294" y="346">1100</text>
<text x="381.8" y="346">1600</text>
<text x="454.3" y="346">10</text>
<text x="510.3" y="346">1.15</text>

<text x="231" y="379.5">20</text>
<text x="294" y="379.5">2100</text>
<text x="381.8" y="379.5">2600</text>
<text x="454.3" y="379.5">19</text>
<text x="510.3" y="379.5">1.09</text>
</g>
</svg>
</body>
</html>
